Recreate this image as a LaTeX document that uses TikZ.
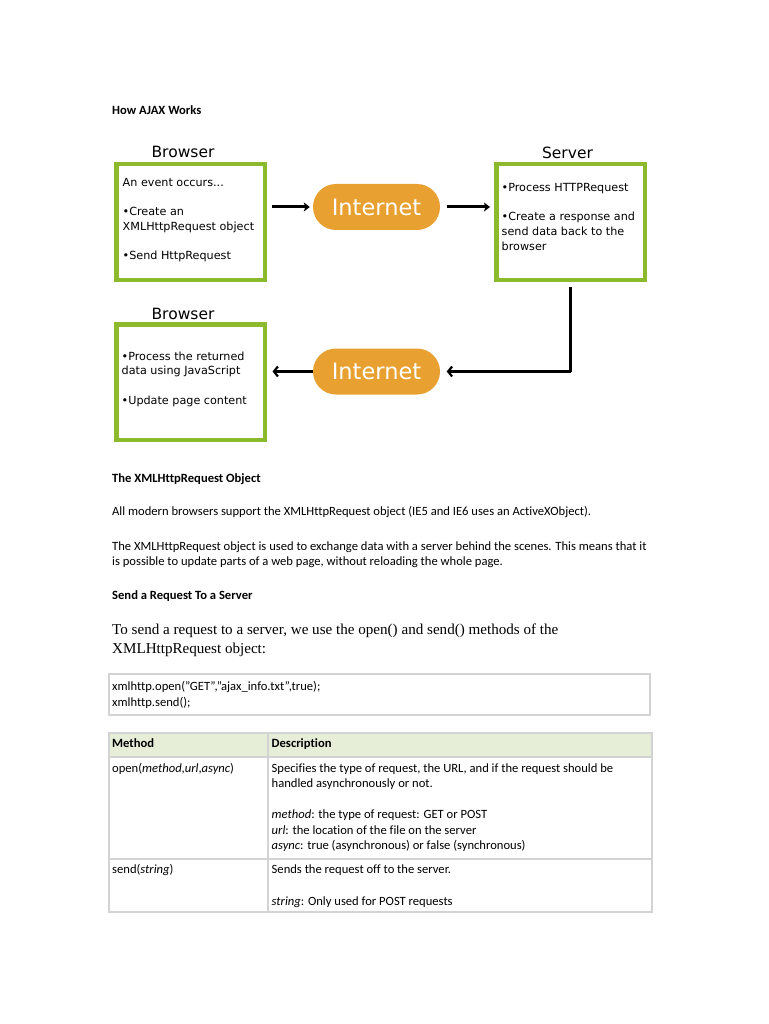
\documentclass[tikz,border=0pt]{standalone}
\usepackage{fontspec}
\setmainfont{Carlito}[Ligatures=NoCommon]
\newfontfamily\diagfont{DejaVu Sans}
\newfontfamily\seriffont{Liberation Serif}
\usetikzlibrary{arrows.meta,positioning}
\definecolor{boxgreen}{HTML}{8DBA2C}
\definecolor{netorange}{HTML}{E8A030}
\definecolor{headgreen}{HTML}{E6EED7}
\definecolor{rulegray}{HTML}{D3D3D3}

\tikzset{
  pagebox/.style={draw=boxgreen, line width=4.5pt, fill=white, minimum width=148.5pt, minimum height=115.5pt, inner sep=0pt},
  netpill/.style={fill=netorange, rounded corners=23pt, minimum width=127pt, minimum height=46pt, inner sep=0pt, text=white, font=\diagfont\fontsize{22.5}{26}\selectfont},
  boxtext/.style={anchor=base west, align=left, inner sep=0pt, font=\diagfont\fontsize{11.2}{14.6}\selectfont},
  boxtitle/.style={anchor=base, inner sep=0pt, font=\diagfont\fontsize{15.5}{18}\selectfont},
  bodytext/.style={anchor=base west, align=left, inner sep=0pt, font=\fontsize{12.6}{15}\selectfont},
  headtext/.style={bodytext, font=\bfseries\fontsize{12.6}{15}\selectfont},
  fwd/.style={line width=3pt, -{Stealth[length=6pt, width=9pt, inset=1.5pt]}},
  back/.style={line width=2.2pt, -{Straight Barb[length=4pt, width=10pt]}}
}

\begin{document}
\begin{tikzpicture}[x=1pt, y=-1pt]
\useasboundingbox[fill=white] (0,0) rectangle (768,1024);

% heading
\node[headtext] (hdajax) at (112,115) {How AJAX Works};

% request: browser -> internet -> server
% (multi-line nodes sit on the baseline of their last line)
\node[pagebox] (browser1) at (190.5,222) {};
\node[boxtitle] (brtitle1) at (183,157.3) {Browser};
\node[boxtext] (brtext1) at (122.5,259.3) {An event occurs...\\[14.6pt]•Create an\\XMLHttpRequest object\\[14.6pt]•Send HttpRequest};
\node[netpill] (net1) at (376.5,207) {Internet};
\node[pagebox] (server) at (570.5,222) {};
\node[boxtitle] (svtitle) at (567.5,159) {Server};
\node[boxtext] (svtext) at (501.5,250) {•Process HTTPRequest\\[14.6pt]•Create a response and\\send data back to the\\browser};
\draw[fwd, shorten <=4.5pt, shorten >=3pt] (net1 -| browser1.east) -- (net1.west);
\draw[fwd, shorten <=6.5pt, shorten >=4pt] (net1.east) -- (net1 -| server.west);

% response: server -> internet -> browser
\node[netpill] (net2) at (376.5,371.5) {Internet};
\node[pagebox] (browser2) at (190.5,382) {};
\node[boxtitle] (brtitle2) at (183,319) {Browser};
\node[boxtext] (brtext2) at (121.5,404) {•Process the returned\\data using JavaScript\\[14.6pt]•Update page content};
\draw[line width=3pt, shorten <=5pt] (server.south) -- (server.south |- net2);
\draw[back, shorten >=6.5pt] (server.south |- net2) -- (net2.east);
\draw[back, shorten >=5.5pt] (net2.west) -- (net2 -| browser2.east);

% text section
\node[headtext] (hdobj) at (112,482) {The XMLHttpRequest Object};
\node[bodytext] (para1) at (112,515) {All modern browsers support the XMLHttpRequest object (IE5 and IE6 uses an ActiveXObject).};
\node[bodytext] (para2) at (112,565) {The XMLHttpRequest object is used to exchange data with a server behind the scenes. This means that it\\is possible to update parts of a web page, without reloading the whole page.};
\node[headtext] (hdsend) at (112,599) {Send a Request To a Server};
\node[anchor=base west, align=left, inner sep=0pt, font=\seriffont\fontsize{15.1}{19}\selectfont] (para3) at (112,653) {To send a request to a server, we use the open() and send() methods of the\\XMLHttpRequest object:};

% code box
\draw[rulegray, line width=1.2pt] (109,674) rectangle (650,715);
\node[bodytext, font=\fontsize{12.6}{16}\selectfont] (code) at (112,706.7) {xmlhttp.open("GET","ajax\_info.txt",true);\\xmlhttp.send();};

% method table
\fill[headgreen] (109,733) rectangle (652,757);
\draw[rulegray, line width=1.2pt] (109,733) rectangle (652,912);
\draw[rulegray, line width=1.2pt] (109,757) -- (652,757) (109,859) -- (652,859) (268,733) -- (268,912);
\node[headtext] (thmethod) at (112,747.5) {Method};
\node[headtext] (thdesc) at (271.5,747.5) {Description};
\node[bodytext] (mopen) at (112,772) {open(\textit{method},\textit{url},\textit{async})};
\node[bodytext, font=\fontsize{12.6}{15.5}\selectfont] (dopen) at (271.5,849.5) {Specifies the type of request, the URL, and if the request should be\\handled asynchronously or not.\\[15.5pt]\textit{method}: the type of request: GET or POST\\\textit{url}: the location of the file on the server\\\textit{async}: true (asynchronous) or false (synchronous)};
\node[bodytext] (msend) at (112,873) {send(\textit{string})};
\node[bodytext, font=\fontsize{12.6}{16}\selectfont] (dsend) at (271.5,905) {Sends the request off to the server.\\[16pt]\textit{string}: Only used for POST requests};
\end{tikzpicture}
\end{document}
